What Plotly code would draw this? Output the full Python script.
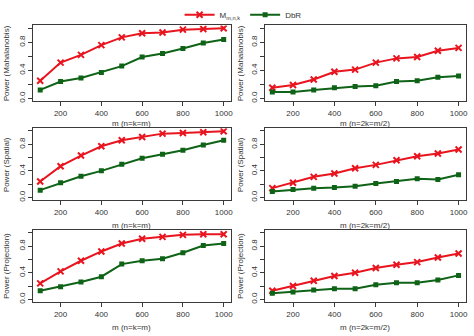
import plotly.graph_objects as go

# Sample sizes on the x axis
m_values = [100, 200, 300, 400, 500, 600, 700, 800, 900, 1000]

# Power curves: (M statistic, DbR) for each depth / design
maha_eq_M = [0.25, 0.51, 0.62, 0.76, 0.87, 0.93, 0.94, 0.98, 0.99, 1.00]
maha_eq_D = [0.12, 0.24, 0.29, 0.37, 0.46, 0.59, 0.64, 0.71, 0.79, 0.84]
maha_half_M = [0.15, 0.19, 0.27, 0.38, 0.41, 0.51, 0.57, 0.59, 0.68, 0.72]
maha_half_D = [0.09, 0.09, 0.12, 0.15, 0.17, 0.18, 0.24, 0.25, 0.30, 0.32]

spat_eq_M = [0.24, 0.47, 0.63, 0.77, 0.86, 0.91, 0.96, 0.97, 0.98, 0.995]
spat_eq_D = [0.11, 0.22, 0.32, 0.40, 0.50, 0.59, 0.65, 0.71, 0.79, 0.86]
spat_half_M = [0.14, 0.22, 0.31, 0.36, 0.44, 0.49, 0.56, 0.62, 0.66, 0.72]
spat_half_D = [0.09, 0.12, 0.14, 0.15, 0.17, 0.21, 0.24, 0.28, 0.27, 0.34]

proj_eq_M = [0.24, 0.42, 0.58, 0.72, 0.84, 0.91, 0.94, 0.97, 0.98, 0.98]
proj_eq_D = [0.13, 0.19, 0.26, 0.34, 0.53, 0.58, 0.61, 0.70, 0.81, 0.84]
proj_half_M = [0.13, 0.20, 0.28, 0.35, 0.40, 0.47, 0.52, 0.56, 0.63, 0.69]
proj_half_D = [0.09, 0.11, 0.14, 0.16, 0.16, 0.22, 0.25, 0.25, 0.29, 0.36]

depth_names = ["Mahalanobis", "Spatial", "Projection"]
design_labels = ["m (n=k=m)", "m (n=2k=m/2)"]
series_names = ["M<sub>m,n,k</sub>", "DbR"]

panels = [
    [(maha_eq_M, maha_eq_D), (maha_half_M, maha_half_D)],
    [(spat_eq_M, spat_eq_D), (spat_half_M, spat_half_D)],
    [(proj_eq_M, proj_eq_D), (proj_half_M, proj_half_D)],
]

x_ticks = [200, 400, 600, 800, 1000]
y_ticks = [0.0, 0.4, 0.8]
y_ticktext = ["0.0", "0.4", "0.8"]
y_minor_ticks = [0.2, 0.6, 1.0]

RED = "#E8141E"
GREEN = "#0E6316"
AXIS = "#3a3a3a"
TEXT = "#333333"
FONT = "Liberation Sans, Arial, sans-serif"

W, H = 474, 336
col_px = [(33, 232), (266, 468)]
row_px = [(18, 96), (124, 198), (229, 303)]
xtitle_y_px = [119, 224, 329]
ytitle_x_px = [6, 241]

fig = go.Figure()
layout = {}
annotations = []
idx = 0
for r in range(3):
    for c in range(2):
        idx += 1
        xa = "xaxis" if idx == 1 else f"xaxis{idx}"
        ya = "yaxis" if idx == 1 else f"yaxis{idx}"
        xr = "x" if idx == 1 else f"x{idx}"
        yr = "y" if idx == 1 else f"y{idx}"
        m_vals, d_vals = panels[r][c]
        for vals, color, sym, size, mline, name in [
            (m_vals, RED, "x-thin", 6, 2, series_names[0]),
            (d_vals, GREEN, "square", 5, 0, series_names[1]),
        ]:
            fig.add_trace(go.Scatter(
                x=m_values, y=vals, xaxis=xr, yaxis=yr,
                mode="lines+markers", name=name, showlegend=(idx == 1),
                line=dict(color=color, width=2),
                marker=dict(symbol=sym, size=size, color=color,
                            line=dict(width=mline, color=color)),
            ))
        x0, x1 = col_px[c]
        y0, y1 = row_px[r]
        layout[xa] = dict(
            domain=[x0 / W, x1 / W], anchor=yr, range=[64, 1036],
            tickvals=x_ticks, ticks="outside", ticklen=4, tickcolor=AXIS,
            showline=True, linecolor=AXIS, linewidth=1, mirror=True,
            showgrid=False, zeroline=False,
            tickfont=dict(size=8, color=TEXT, family=FONT),
        )
        layout[ya] = dict(
            domain=[1 - y1 / H, 1 - y0 / H], anchor=xr, range=[-0.04, 1.04],
            tickvals=y_ticks, ticktext=y_ticktext, tickangle=-90,
            ticks="outside", ticklen=4, tickcolor=AXIS,
            minor=dict(tickvals=y_minor_ticks, ticks="outside", ticklen=4,
                       tickcolor=AXIS, showgrid=False),
            showline=True, linecolor=AXIS, linewidth=1, mirror=True,
            showgrid=False, zeroline=False,
            tickfont=dict(size=8, color=TEXT, family=FONT),
        )
        # axis titles
        annotations.append(dict(
            text=design_labels[c], xref="paper", yref="paper",
            x=(x0 + x1) / 2 / W, y=1 - xtitle_y_px[r] / H,
            xanchor="center", yanchor="middle", showarrow=False,
            font=dict(size=8, color=TEXT, family=FONT)))
        annotations.append(dict(
            text=f"Power ({depth_names[r]})", xref="paper", yref="paper",
            x=ytitle_x_px[c] / W, y=1 - (y0 + y1) / 2 / H, textangle=-90,
            xanchor="center", yanchor="middle", showarrow=False,
            font=dict(size=8, color=TEXT, family=FONT)))

fig.update_layout(
    width=W, height=H,
    margin=dict(l=0, r=0, t=0, b=0),
    paper_bgcolor="white", plot_bgcolor="white",
    legend=dict(orientation="h", x=0.515, xanchor="center",
                y=1 - 7 / H, yanchor="middle",
                font=dict(size=8, color=TEXT, family=FONT),
                itemwidth=30, tracegroupgap=0, bgcolor="rgba(0,0,0,0)"),
    annotations=annotations,
    **layout,
)

fig.write_html("out.html")
